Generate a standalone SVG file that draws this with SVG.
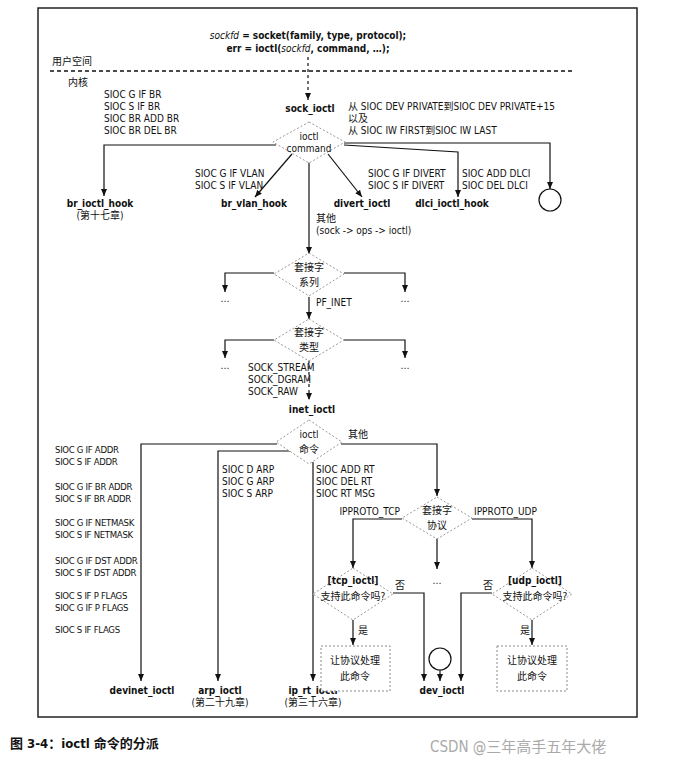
<svg xmlns="http://www.w3.org/2000/svg" width="676" height="768" viewBox="0 0 676 768">
<defs>
<marker id="ah" markerWidth="8" markerHeight="8" refX="7" refY="4" orient="auto" markerUnits="userSpaceOnUse"><path d="M0,1 L7,4 L0,7 Z" fill="#111"/></marker>
<style>
text{font-family:"DejaVu Sans Condensed","Liberation Sans","Noto Sans CJK SC",sans-serif;font-size:10px;fill:#111}
.b{font-weight:bold}
.c{text-anchor:middle}
.s{font-size:9.5px;letter-spacing:-0.3px}
.ln{fill:none;stroke:#111;stroke-width:1.2}
.ar{fill:none;stroke:#111;stroke-width:1.2;marker-end:url(#ah)}
.dd{fill:none;stroke:#111;stroke-width:1.2;stroke-dasharray:3,3}
.dm{fill:#fff;stroke:#999;stroke-width:1;stroke-dasharray:2,2}
.bx{fill:#fff;stroke:#888;stroke-width:1;stroke-dasharray:2,2}
</style>
</defs>
<rect width="676" height="768" fill="#fff"/>
<rect x="38" y="8" width="599" height="709" fill="none" stroke="#222" stroke-width="1.5"/>
<g id="header">
<text class="c b" x="308" y="39"><tspan font-style="italic" font-weight="normal">sockfd</tspan> = socket(family, type, protocol);</text>
<text class="c b" x="308" y="52">err = ioctl(<tspan font-style="italic" font-weight="normal">sockfd</tspan>, command, …);</text>
<text x="52" y="65">用户空间</text>
<text x="68" y="86">内核</text>
<line x1="50" y1="71" x2="572" y2="71" stroke="#111" stroke-width="1.5" stroke-dasharray="4,3"/>
</g>
<g id="connectors">
<path class="dd" d="M308,57 V100" marker-end="url(#ah)"/>
<path class="ar" d="M276,145 H104 V196"/>
<path class="ar" d="M292,154 L255,197"/>
<path class="ar" d="M328,154 L362,197"/>
<path class="ar" d="M344,145 L458,152 V197"/>
<path class="ar" d="M344,143 H550 V189"/>
<path class="ar" d="M309,162 V254"/>
<path class="ar" d="M274,273 H225 V292"/>
<path class="ar" d="M344,273 H405 V292"/>
<path class="ar" d="M309,297 V319"/>
<path class="ar" d="M274,340 H225 V358"/>
<path class="ar" d="M344,340 H405 V358"/>
<path class="dd" d="M309,360 V400" marker-end="url(#ah)"/>
<path class="ar" d="M277,444 H141 V681"/>
<path class="ar" d="M291,451 H218 V681"/>
<path class="ar" d="M313,462 V681"/>
<path class="ar" d="M341,444 H437 V496"/>
<path class="ar" d="M402,519 H353 V568"/>
<path class="ar" d="M472,519 H532 V568"/>
<path class="ar" d="M437,537 V569"/>
<path class="ar" d="M393,593 H424 V681"/>
<path class="ar" d="M492,593 H461 V681"/>
<path class="ar" d="M353,620 V645"/>
<path class="ar" d="M532,620 V645"/>
<path class="ar" d="M440,670 V681"/>
</g>
<g id="sock_ioctl">
<text class="c b" x="310" y="112">sock_ioctl</text>
<text x="104" y="98">SIOC G IF BR</text><text x="104" y="110">SIOC S IF BR</text><text x="104" y="122">SIOC BR ADD BR</text><text x="104" y="134">SIOC BR DEL BR</text>
<text x="348" y="110">从 SIOC DEV PRIVATE到SIOC DEV PRIVATE+15</text><text x="348" y="122">以及</text><text x="348" y="134">从 SIOC IW FIRST到SIOC IW LAST</text>
</g>
<g id="d1"><polygon class="dm" points="309,122 345,142 309,163 273,142"/><text class="c" x="309" y="140">ioctl</text><text class="c" x="309" y="152">command</text></g>
<g id="br_ioctl_hook"><text class="c b" x="100" y="207">br_ioctl_hook</text><text class="c" x="100" y="219">(第十七章)</text></g>
<g id="br_vlan_hook"><text x="195" y="177">SIOC G IF VLAN</text><text x="195" y="189">SIOC S IF VLAN</text><text class="c b" x="254" y="207">br_vlan_hook</text></g>
<g id="divert_ioctl"><text x="368" y="177">SIOC G IF DIVERT</text><text x="368" y="189">SIOC S IF DIVERT</text><text class="c b" x="362" y="207">divert_ioctl</text></g>
<g id="dlci_ioctl_hook"><text x="462" y="177">SIOC ADD DLCI</text><text x="462" y="189">SIOC DEL DLCI</text><text class="c b" x="452" y="207">dlci_ioctl_hook</text></g>
<g id="circle1"><circle cx="550" cy="200" r="11" fill="#fff" stroke="#111" stroke-width="1.2"/></g>
<g id="other1"><text x="316" y="222">其他</text><text x="316" y="234">(sock -&gt; ops -&gt; ioctl)</text></g>
<g id="d2"><polygon class="dm" points="309,253 344,274 309,296 274,274"/><text class="c" x="309" y="271">套接字</text><text class="c" x="309" y="286">系列</text></g>
<g id="dots1"><text class="c" x="225" y="302">…</text><text class="c" x="405" y="302">…</text><text x="316" y="306">PF_INET</text></g>
<g id="d3"><polygon class="dm" points="309,319 344,340 309,361 274,340"/><text class="c" x="309" y="336">套接字</text><text class="c" x="309" y="351">类型</text></g>
<g id="dots2"><text class="c" x="225" y="369">…</text><text class="c" x="405" y="369">…</text></g>
<g id="inet_ioctl"><text x="248" y="371">SOCK_STREAM</text><text x="248" y="383">SOCK_DGRAM</text><text x="248" y="395">SOCK_RAW</text><text class="c b" x="312" y="413">inet_ioctl</text></g>
<g id="d4"><polygon class="dm" points="309,420 342,442 309,464 276,442"/><text class="c" x="309" y="438">ioctl</text><text class="c" x="309" y="453">命令</text><text x="348" y="438">其他</text></g>
<g id="devinet_ioctl">
<text class="s" x="55" y="453">SIOC G IF ADDR</text><text class="s" x="55" y="465">SIOC S IF ADDR</text>
<text class="s" x="55" y="490">SIOC G IF BR ADDR</text><text class="s" x="55" y="502">SIOC S IF BR ADDR</text>
<text class="s" x="55" y="526">SIOC G IF NETMASK</text><text class="s" x="55" y="538">SIOC S IF NETMASK</text>
<text class="s" x="55" y="564">SIOC G IF DST ADDR</text><text class="s" x="55" y="576">SIOC S IF DST ADDR</text>
<text class="s" x="55" y="599">SIOC S IF P FLAGS</text><text class="s" x="55" y="611">SIOC G IF P FLAGS</text>
<text class="s" x="55" y="633">SIOC S IF FLAGS</text>
<text class="c b" x="142" y="694">devinet_ioctl</text>
</g>
<g id="arp_ioctl"><text x="222" y="473">SIOC D ARP</text><text x="222" y="485">SIOC G ARP</text><text x="222" y="497">SIOC S ARP</text><text class="c b" x="220" y="694">arp_ioctl</text><text class="c" x="220" y="706">(第二十九章)</text></g>
<g id="ip_rt_ioctl"><text x="316" y="473">SIOC ADD RT</text><text x="316" y="485">SIOC DEL RT</text><text x="316" y="497">SIOC RT MSG</text><text class="c b" x="313" y="694">ip_rt_ioctl</text><text class="c" x="313" y="706">(第三十六章)</text></g>
<g id="d5"><polygon class="dm" points="437,497 472,518 437,539 402,518"/><text class="c" x="437" y="514">套接字</text><text class="c" x="437" y="529">协议</text><text x="400" y="515" text-anchor="end">IPPROTO_TCP</text><text x="474" y="515">IPPROTO_UDP</text><text class="c" x="437" y="584">…</text></g>
<g id="tcp"><polygon class="dm" points="353,568 393,594 353,620 313,594"/><text class="c b" x="353" y="584">[tcp_ioctl]</text><text class="c" x="353" y="600">支持此命令吗?</text><text x="395" y="589">否</text><text x="358" y="634">是</text>
<rect class="bx" x="321" y="646" width="69" height="45"/><text class="c" x="355" y="664">让协议处理</text><text class="c" x="355" y="680">此命令</text></g>
<g id="udp"><polygon class="dm" points="532,568 572,594 532,620 492,594"/><text class="c b" x="535" y="584">[udp_ioctl]</text><text class="c" x="535" y="600">支持此命令吗?</text><text x="483" y="589">否</text><text x="520" y="634">是</text>
<rect class="bx" x="497" y="646" width="70" height="45"/><text class="c" x="532" y="664">让协议处理</text><text class="c" x="532" y="680">此命令</text></g>
<g id="dev_ioctl"><circle cx="440" cy="659" r="11" fill="#fff" stroke="#111" stroke-width="1.2"/><text class="c b" x="442" y="694">dev_ioctl</text></g>
<g id="caption"><text x="10" y="748" style="font-size:13px" class="b">图 3-4：ioctl 命令的分派</text><text x="430" y="752" style="font-size:15px;fill:#aaa">CSDN @三年高手五年大佬</text></g>
</svg>
